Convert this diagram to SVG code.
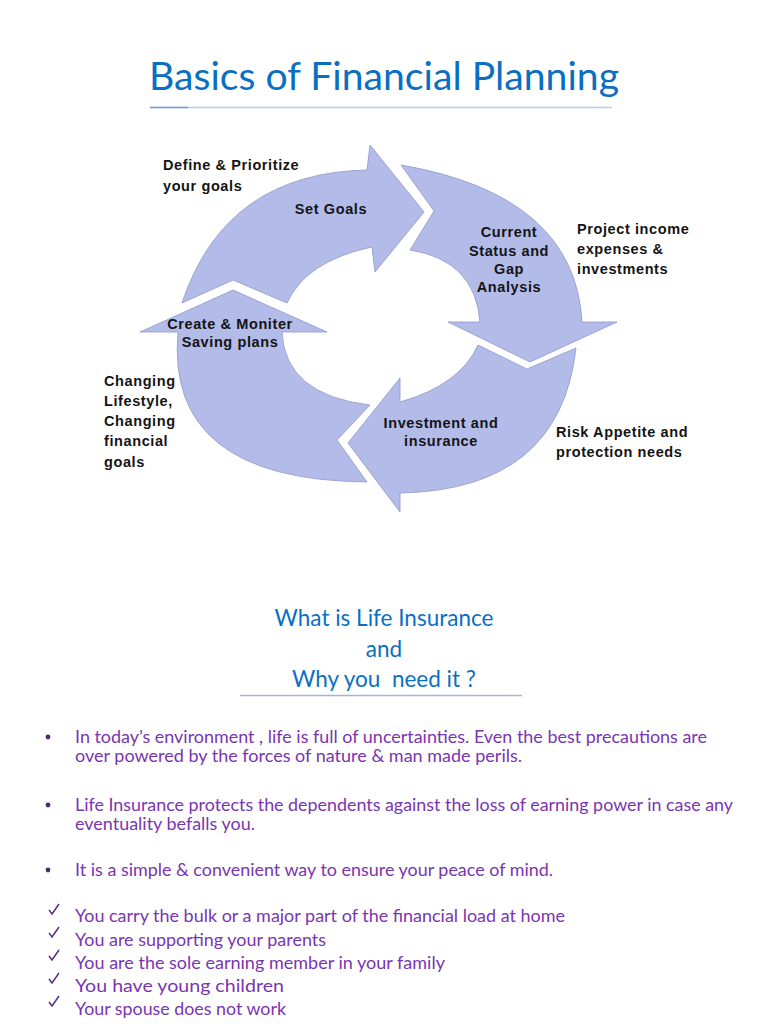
<svg xmlns="http://www.w3.org/2000/svg" width="768" height="1024" viewBox="0 0 768 1024">
<style>
.arr{fill:#b3bbe9;stroke:#8f97c9;stroke-width:0.8}
.lbl{font-family:"Liberation Sans",Arial,sans-serif;font-weight:bold;font-size:14.5px;letter-spacing:0.6px;fill:#141414}
.mid{text-anchor:middle}
.h{font-family:Lato,"Open Sans",sans-serif;fill:#0a6fc2}
.b{font-family:Lato,"Open Sans",sans-serif;font-size:16.5px;fill:#7a35b0}
.dot{fill:#4b2a6e}
.chk{fill:none;stroke:#5b2c85;stroke-width:1.5}
</style>
<rect width="768" height="1024" fill="#ffffff"/>
<g id="title">
<text class="h" x="149" y="90" font-size="38" textLength="470" lengthAdjust="spacingAndGlyphs">Basics of Financial Planning</text>
<line x1="150" y1="107.5" x2="612" y2="107.5" stroke="#b8cdea" stroke-width="1.5"/>
<line x1="150" y1="107.5" x2="188" y2="107.5" stroke="#7f9fcf" stroke-width="1.5"/>
</g>
<g id="cycle">
<g id="set-goals">
<path class="arr" d="M182,303 Q225,173 367,170 L370,145 L424,212 L375,272 L372,247 Q306,261 287,303 L233,280 Z"/>
<text class="lbl mid" x="331" y="214">Set Goals</text>
</g>
<g id="current-status">
<path class="arr" d="M401,165 Q575,195 582,322 L617,322 L530,362 L448,322 L480,322 Q475,260 410,250 L434,211 Z"/>
<text class="lbl mid" x="509" y="237">Current</text>
<text class="lbl mid" x="509" y="256">Status and</text>
<text class="lbl mid" x="509" y="274">Gap</text>
<text class="lbl mid" x="509" y="292">Analysis</text>
</g>
<g id="investment">
<path class="arr" d="M576,348 L527,369 L478,345 Q460,385 400,402 L400,378 L348,443 L400,512 L400,493 Q560,490 576,348 Z"/>
<text class="lbl mid" x="441" y="428">Investment and</text>
<text class="lbl mid" x="441" y="446">insurance</text>
</g>
<g id="create-monitor">
<path class="arr" d="M367,482 Q165,480 178,332 L140,332 L233,290 L327,332 L282,332 Q285,395 370,405 L337,440 Z"/>
<text class="lbl mid" x="230" y="329">Create &amp; Moniter</text>
<text class="lbl mid" x="230" y="347">Saving plans</text>
</g>
</g>
<g id="notes">
<text class="lbl" x="163" y="170">Define &amp; Prioritize</text>
<text class="lbl" x="163" y="191">your goals</text>
<text class="lbl" x="577" y="234">Project income</text>
<text class="lbl" x="577" y="254">expenses &amp;</text>
<text class="lbl" x="577" y="274">investments</text>
<text class="lbl" x="104" y="386">Changing</text>
<text class="lbl" x="104" y="406">Lifestyle,</text>
<text class="lbl" x="104" y="426">Changing</text>
<text class="lbl" x="104" y="446">financial</text>
<text class="lbl" x="104" y="467">goals</text>
<text class="lbl" x="556" y="437">Risk Appetite and</text>
<text class="lbl" x="556" y="457">protection needs</text>
</g>
<g id="subtitle">
<text class="h mid" x="384" y="626" font-size="22.5">What is Life Insurance</text>
<text class="h mid" x="384" y="657" font-size="22.5">and</text>
<text class="h mid" x="384" y="687" font-size="22.5" xml:space="preserve">Why you  need it ?</text>
<line x1="240" y1="695.5" x2="522" y2="695.5" stroke="#9db8e0" stroke-width="1.3"/>
</g>
<g id="bullets">
<circle class="dot" cx="48" cy="737" r="2.4"/>
<text class="b" x="75" y="743" textLength="632" lengthAdjust="spacingAndGlyphs">In today’s environment , life is full of uncertainties. Even the best precautions are</text>
<text class="b" x="75" y="762" textLength="447" lengthAdjust="spacingAndGlyphs">over powered by the forces of nature &amp; man made perils.</text>
<circle class="dot" cx="48" cy="805" r="2.4"/>
<text class="b" x="75" y="811" textLength="658" lengthAdjust="spacingAndGlyphs">Life Insurance protects the dependents against the loss of earning power in case any</text>
<text class="b" x="75" y="830" textLength="180" lengthAdjust="spacingAndGlyphs">eventuality befalls you.</text>
<circle class="dot" cx="48" cy="870" r="2.4"/>
<text class="b" x="75" y="876" textLength="478" lengthAdjust="spacingAndGlyphs">It is a simple &amp; convenient way to ensure your peace of mind.</text>
</g>
<g id="checklist">
<path class="chk" d="M49,910 L52,914 L59,904"/>
<text class="b" x="75" y="922" textLength="490" lengthAdjust="spacingAndGlyphs">You carry the bulk or a major part of the financial load at home</text>
<path class="chk" d="M49,933 L52,937 L59,927"/>
<text class="b" x="75" y="946" textLength="251" lengthAdjust="spacingAndGlyphs">You are supporting your parents</text>
<path class="chk" d="M49,956 L52,960 L59,950"/>
<text class="b" x="75" y="969" textLength="370" lengthAdjust="spacingAndGlyphs">You are the sole earning member in your family</text>
<path class="chk" d="M49,979 L52,983 L59,973"/>
<text class="b" x="75" y="992" textLength="209" lengthAdjust="spacingAndGlyphs">You have young children</text>
<path class="chk" d="M49,1002 L52,1006 L59,996"/>
<text class="b" x="75" y="1015" textLength="211" lengthAdjust="spacingAndGlyphs">Your spouse does not work</text>
</g>
</svg>
